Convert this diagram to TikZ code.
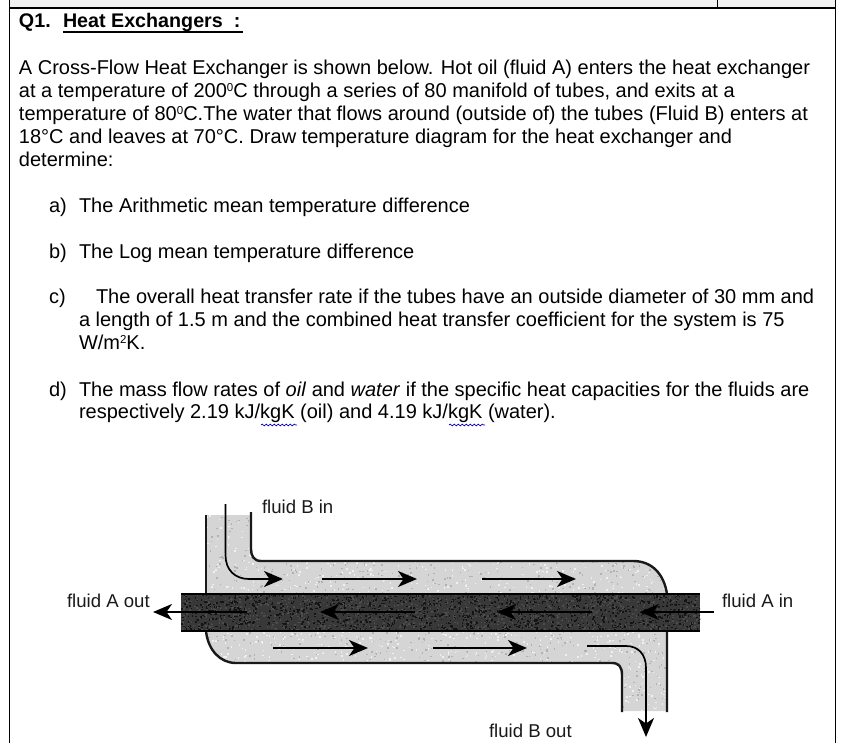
\documentclass[tikz,border=0pt]{standalone}
\usepackage{fontspec}
\setmainfont{Liberation Sans}
\usetikzlibrary{arrows.meta,decorations.pathmorphing}
\newcommand{\smallsup}[1]{\raisebox{6.5pt}{\fontsize{11.5}{11.5}\selectfont #1}}
\tikzset{
  body/.style={anchor=base west,inner sep=0pt,outer sep=0pt,font=\fontsize{20}{23}\selectfont},
  title/.style={anchor=base west,inner sep=0pt,outer sep=0pt,font=\fontsize{19.7}{22}\selectfont\bfseries},
  fig/.style={anchor=base west,inner sep=0pt,outer sep=0pt,font=\fontsize{18.6}{22}\selectfont,text=black!90},
  frameline/.style={line width=1.1pt,black},
  wall/.style={line width=2.4pt,black!90,line cap=butt},
  flow/.style={line width=1.7pt,black,-{Stealth[length=19pt,width=16pt,inset=5.5pt]}},
  squiggle/.style={line width=.7pt,blue!70!black,decorate,decoration={snake,amplitude=.9pt,segment length=4pt}}
}
\definecolor{shellgray}{HTML}{D5D5D5}
\definecolor{tubegray}{HTML}{383838}
\begin{document}
\begin{tikzpicture}[x=1pt,y=-1pt]
\useasboundingbox (0,0) rectangle (841,743);
% top strip and frame
\fill[black!5] (9.5,0) rectangle (835.5,8);
\draw[frameline] (9.5,8) -- (835.5,8);
\draw[frameline] (717.5,0) -- (717.5,8);
\draw[frameline] (9.5,0) -- (9.5,743);
\draw[frameline] (835.5,0) -- (835.5,743);
% texts
\node[title] (q) at (19,28) {Q1.};
\node[title] (qt) at (63,28) {Heat Exchangers\ \ :};
\coordinate (ulA) at (63,32);
\coordinate (ulB) at (243,32);
\draw[line width=1.7pt] (ulA) -- (ulB);
\node[body] (l1) at (19,75) {A Cross-Flow Heat Exchanger is shown below. Hot oil (fluid A) enters the heat exchanger};
\node[body] (l2) at (19,98) {at a temperature of 200\smallsup{0}C through a series of 80 manifold of tubes, and exits at a};
\node[body] (l3) at (19,121) {temperature of 80\smallsup{0}C.The water that flows around (outside of) the tubes (Fluid B) enters at};
\node[body] (l4) at (19,144) {18°C and leaves at 70°C. Draw temperature diagram for the heat exchanger and};
\node[body] (l5) at (19,167) {determine:};
\node[body] (al) at (49,213) {a)};
\node[body] (at) at (79,213) {The Arithmetic mean temperature difference};
\node[body] (bl) at (49,259) {b)};
\node[body] (bt) at (79,259) {The Log mean temperature difference};
\node[body] (cl) at (49,304) {c)};
\node[body] (ct) at (96,304) {The overall heat transfer rate if the tubes have an outside diameter of 30 mm and};
\node[body] (ct2) at (79,327) {a length of 1.5 m and the combined heat transfer coefficient for the system is 75};
\node[body] (ct3) at (79,350) {W/m\smallsup{2}K.};
\node[body] (dl) at (49,396) {d)};
\node[body] (dt) at (79,396) {The mass flow rates of \textit{oil} and \textit{water} if the specific heat capacities for the fluids are};
\node[body] (dt2) at (79,418.5) {respectively 2.19 kJ/kgK (oil) and 4.19 kJ/kgK (water).};
\draw[squiggle] (261,425) -- (297,425);
\draw[squiggle] (449,425) -- (485,425);
% shell body
\begin{scope}
\clip (206,515) -- (206,631) .. controls (208,650) and (220,663) .. (236,663)
  -- (612,663) .. controls (619,663) and (622,667) .. (622,675) -- (622,711)
  -- (667,711) -- (667,594) .. controls (664,574) and (652,561) .. (633,561)
  -- (261,561) .. controls (254,561) and (251,556) .. (251,549) -- (251,515) -- cycle;
\fill[shellgray] (200,500) rectangle (680,720);
\pgfmathsetseed{4217}
\foreach \i in {1,...,3000}{
  \pgfmathsetmacro{\px}{200+480*rnd}
  \pgfmathsetmacro{\py}{510+210*rnd}
  \pgfmathparse{rnd<0.55?1:0}
  \ifnum\pgfmathresult=1\relax\fill[black!6] (\px,\py) rectangle ++(1.5,1.5);\else\fill[black!30] (\px,\py) rectangle ++(1.5,1.5);\fi
}
\end{scope}
% shell walls
\draw[wall] (206,515) -- (206,594);
\draw[wall] (206,631) .. controls (208,650) and (220,663) .. (236,663)
  -- (612,663) .. controls (619,663) and (622,667) .. (622,675) -- (622,712);
\draw[wall] (251,512) -- (251,549) .. controls (251,556) and (254,561) .. (261,561)
  -- (633,561) .. controls (652,561) and (664,574) .. (667,594) -- (667,712);
% tube
\fill[tubegray] (181,594) rectangle (700,631);
\begin{scope}
\clip (181,594) rectangle (700,631);
\pgfmathsetseed{913}
\foreach \i in {1,...,2600}{
  \pgfmathsetmacro{\px}{181+519*rnd}
  \pgfmathsetmacro{\py}{594+37*rnd}
  \pgfmathparse{rnd<0.45?1:0}
  \ifnum\pgfmathresult=1\relax\fill[black!70] (\px,\py) rectangle ++(1.5,1.5);\else\fill[black!92] (\px,\py) rectangle ++(1.5,1.5);\fi
}
\end{scope}
\draw[line width=2.4pt,black] (181,594) -- (700,594);
\draw[line width=2.4pt,black] (181,631) -- (700,631);
% flow arrows, shell side
\draw[flow] (225.5,504) -- (225.5,555) .. controls (225.5,570) and (235,579) .. (249,579) -- (283,579);
\draw[flow] (322,579) -- (417,579);
\draw[flow] (482,579) -- (576,579);
\draw[flow] (273,648) -- (368,648);
\draw[flow] (433,648) -- (527,648);
\draw[flow] (587,646) -- (626,646) .. controls (638,646) and (646,654) .. (646,668) -- (646,737);
% flow arrows, tube side
\draw[flow] (714,612) -- (640,612);
\draw[flow] (592,612) -- (497,612);
\draw[flow] (415,612) -- (320,612);
\draw[flow] (247,612) -- (153,612);
% labels
\node[fig] (bin) at (262,513) {fluid B in};
\node[fig] (aout) at (67,607) {fluid A out};
\node[fig] (ain) at (722,607) {fluid A in};
\node[fig] (bout) at (489,737) {fluid B out};
\end{tikzpicture}
\end{document}
